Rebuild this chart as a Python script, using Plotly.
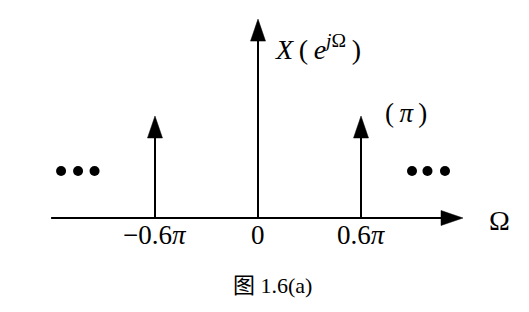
import plotly.graph_objects as go

# ---- data (frequency in units of pi) ----
impulse_freqs = [-0.6, 0.6]          # impulse locations (x pi)
impulse_heights = [1.0, 1.0]         # impulse weight pi (drawn height units)
impulse_weight_label = "(\u2009<i>π</i>\u2009)"
tick_vals = [-0.6, 0.0, 0.6]
tick_text = ["−0.6<i>π</i>", "0", "0.6<i>π</i>"]
axis_x_extent = [-1.205, 1.194]      # horizontal axis start / arrow tip
axis_y_top = 1.95                    # vertical axis arrow tip
dots_left_x = [-1.147, -1.048, -0.952]
dots_right_x = [0.897, 0.987, 1.089]
dots_y = 0.46
y_label = "<i>X</i>\u2009(\u2009<i>e</i><sup><i>j</i>Ω</sup>\u2009)"
x_label = "Ω"
caption = "图 1.6(a)"

# ---- layout geometry ----
W, H = 529, 312
x0_px, y0_px = 258, 218
px_per_x, px_per_y = 171.7, 102.0
x_range = [-x0_px / px_per_x, (W - x0_px) / px_per_x]
y_range = [-(H - y0_px) / px_per_y, y0_px / px_per_y]

HEAD_LEN = 22.0   # px
HEAD_HALF = 7.5   # px
LW = 2
BLACK = "#000000"
FONT = "Liberation Serif, Times New Roman, Noto Sans CJK SC, serif"

fig = go.Figure()


def up_arrow(x, top):
    hl = HEAD_LEN / px_per_y
    hw = HEAD_HALF / px_per_x
    fig.add_trace(go.Scatter(x=[x, x], y=[0, top - hl], mode="lines",
                             line=dict(color=BLACK, width=LW), hoverinfo="skip"))
    fig.add_trace(go.Scatter(x=[x - hw, x + hw, x, x - hw],
                             y=[top - hl, top - hl, top, top - hl],
                             mode="lines", fill="toself", fillcolor=BLACK,
                             line=dict(color=BLACK, width=0.5), hoverinfo="skip"))


# horizontal axis with arrow
hl_x = HEAD_LEN / px_per_x
hw_y = HEAD_HALF / px_per_y
fig.add_trace(go.Scatter(x=[axis_x_extent[0], axis_x_extent[1] - hl_x], y=[0, 0],
                         mode="lines", line=dict(color=BLACK, width=LW), hoverinfo="skip"))
tip = axis_x_extent[1]
fig.add_trace(go.Scatter(x=[tip - hl_x, tip - hl_x, tip, tip - hl_x],
                         y=[-hw_y, hw_y, 0, -hw_y], mode="lines", fill="toself",
                         fillcolor=BLACK, line=dict(color=BLACK, width=0.5), hoverinfo="skip"))

# vertical axis arrow
up_arrow(0.0, axis_y_top)

# impulses
for fx, h in zip(impulse_freqs, impulse_heights):
    up_arrow(fx, h)

# ellipsis dots
fig.add_trace(go.Scatter(x=dots_left_x + dots_right_x,
                         y=[dots_y] * (len(dots_left_x) + len(dots_right_x)),
                         mode="markers", marker=dict(color=BLACK, size=10),
                         hoverinfo="skip"))

annotations = []
for tv, tt in zip(tick_vals, tick_text):
    annotations.append(dict(x=tv, y=-0.17, xref="x", yref="y", text=tt,
                            showarrow=False, xanchor="center", yanchor="middle",
                            font=dict(size=27, color=BLACK, family=FONT)))
annotations.append(dict(x=0.085, y=1.67, xref="x", yref="y", text=y_label,
                        showarrow=False, xanchor="left", yanchor="middle",
                        font=dict(size=28, color=BLACK, family=FONT)))
annotations.append(dict(x=impulse_freqs[1] + 0.13, y=impulse_heights[0] + 0.03,
                        xref="x", yref="y", text=impulse_weight_label,
                        showarrow=False, xanchor="left", yanchor="middle",
                        font=dict(size=27, color=BLACK, family=FONT)))
annotations.append(dict(x=1.335, y=-0.02, xref="x", yref="y", text=x_label,
                        showarrow=False, xanchor="left", yanchor="middle",
                        font=dict(size=28, color=BLACK, family=FONT)))
annotations.append(dict(x=0.085, y=-0.66, xref="x", yref="y", text=caption,
                        showarrow=False, xanchor="center", yanchor="middle",
                        font=dict(size=22, color=BLACK, family=FONT)))

fig.update_layout(
    width=W, height=H, margin=dict(l=0, r=0, t=0, b=0),
    paper_bgcolor="white", plot_bgcolor="white", showlegend=False,
    xaxis=dict(range=x_range, visible=False, fixedrange=True),
    yaxis=dict(range=y_range, visible=False, fixedrange=True),
    annotations=annotations,
)

fig.write_html("out.html")
